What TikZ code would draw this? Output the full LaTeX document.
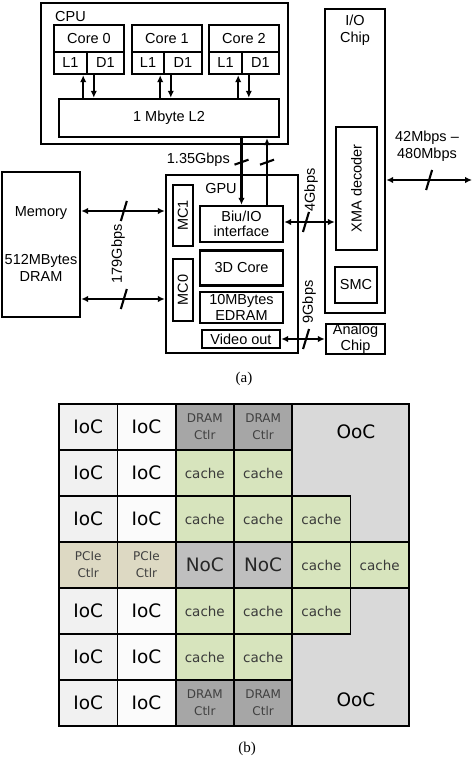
\documentclass[tikz,border=0pt]{standalone}
\usepackage{fontspec}
\setmainfont{Liberation Sans}
\newfontfamily\gridfont{DejaVu Sans}
\newfontfamily\capfont{Liberation Serif}
\usetikzlibrary{arrows.meta}
\definecolor{iocA}{HTML}{F1F1F1}
\definecolor{iocB}{HTML}{FBFBFB}
\definecolor{dramgray}{HTML}{A6A6A6}
\definecolor{dramtext}{HTML}{404040}
\definecolor{cachegreen}{HTML}{D7E4BD}
\definecolor{cachetext}{HTML}{3A3A3A}
\definecolor{nocgray}{HTML}{BFBFBF}
\definecolor{pcietan}{HTML}{DDD9C3}
\definecolor{oocgray}{HTML}{D9D9D9}
\tikzset{
	box/.style = {draw, line width = 2.4pt, inner sep = 0pt, align = center, font = \fontsize{14.5}{15.5}\selectfont},
	link/.style = {line width = 2.1pt, >={Latex[length = 7pt, width = 6.5pt]}},
	busmark/.style = {line width = 2.1pt},
	rate/.style = {inner sep = 0pt, align = center, font = \fontsize{14.5}{16.5}\selectfont},
	cell/.style = {draw, line width = 1.7pt, minimum width = 58.3pt, minimum height = 46pt, inner sep = 0pt, align = center},
	ioc/.style = {cell, fill = iocA, font = \gridfont\fontsize{18.5}{20}\selectfont},
	dram/.style = {cell, fill = dramgray, text = dramtext, font = \gridfont\fontsize{12}{17}\selectfont},
	cache/.style = {cell, fill = cachegreen, text = cachetext, font = \gridfont\fontsize{13.5}{16}\selectfont},
	noc/.style = {cell, fill = nocgray, text = black!85, font = \gridfont\fontsize{18.5}{20}\selectfont},
	pcie/.style = {cell, fill = pcietan, text = dramtext, font = \gridfont\fontsize{12}{17}\selectfont},
	caption/.style = {inner sep = 0pt, font = \capfont\fontsize{15}{17}\selectfont}
}
\begin{document}
\begin{tikzpicture}[x = 1pt, y = -1pt]
	\useasboundingbox (0,0) rectangle (474,757);
	% (a) chip
	\node (cpu) at (164.5, 73.5) [box, minimum width = 247pt, minimum height = 141pt] {};
		\node (cpulabel) at (55, 17) [rate, anchor = west] {CPU};
	\node (c0) at (89, 38.5) [box, minimum width = 70pt, minimum height = 27pt] {Core 0};
	\node (c0l1) at (70.5, 63) [box, minimum width = 33pt, minimum height = 22pt] {L1};
	\node (c0d1) at (105.5, 63) [box, minimum width = 37pt, minimum height = 22pt] {D1};
	\node (c1) at (167, 38.5) [box, minimum width = 70pt, minimum height = 27pt] {Core 1};
	\node (c1l1) at (148, 63) [box, minimum width = 32pt, minimum height = 22pt] {L1};
	\node (c1d1) at (183, 63) [box, minimum width = 38pt, minimum height = 22pt] {D1};
	\node (c2) at (244, 38.5) [box, minimum width = 70pt, minimum height = 27pt] {Core 2};
	\node (c2l1) at (225.5, 63) [box, minimum width = 33pt, minimum height = 22pt] {L1};
	\node (c2d1) at (260.5, 63) [box, minimum width = 37pt, minimum height = 22pt] {D1};
	\node (l2) at (169, 118) [box, minimum width = 220pt, minimum height = 38pt] {1 Mbyte L2};
		\draw[link, ->] ([xshift = -5pt]c0l1.south east |- l2.north) -- ([xshift = -5pt]c0l1.south east);
		\draw[link, ->] ([xshift = 8pt]c0d1.south west) -- ([xshift = 8pt]c0d1.south west |- l2.north);
		\draw[link, ->] ([xshift = -5pt]c1l1.south east |- l2.north) -- ([xshift = -5pt]c1l1.south east);
		\draw[link, ->] ([xshift = 8pt]c1d1.south west) -- ([xshift = 8pt]c1d1.south west |- l2.north);
		\draw[link, ->] ([xshift = -5pt]c2l1.south east |- l2.north) -- ([xshift = -5pt]c2l1.south east);
		\draw[link, ->] ([xshift = 8pt]c2d1.south west) -- ([xshift = 8pt]c2d1.south west |- l2.north);
	\node (mem) at (41, 244.5) [box, minimum width = 78pt, minimum height = 145pt, font = \fontsize{14.5}{17}\selectfont] {Memory\\[31pt]512MBytes\\DRAM};
	\node (gpu) at (232, 264) [box, minimum width = 132pt, minimum height = 178pt] {};
		\node (gpulabel) at (221, 189) [rate] {GPU};
	\node (mc1) at (183, 215.5) [box, minimum width = 20pt, minimum height = 61pt] {\rotatebox{90}{MC1}};
	\node (mc0) at (183, 290) [box, minimum width = 20pt, minimum height = 62pt] {\rotatebox{90}{MC0}};
	\node (biu) at (241.5, 224) [box, minimum width = 83pt, minimum height = 36pt] {Biu/IO\\interface};
	\node (core3d) at (241.5, 268) [box, minimum width = 83pt, minimum height = 35pt] {3D Core};
	\node (edram) at (241.5, 307.5) [box, minimum width = 83pt, minimum height = 31pt] {10MBytes\\EDRAM};
	\node (video) at (241, 339) [box, minimum width = 78pt, minimum height = 18pt] {Video out};
		\draw[link, ->] (biu.north |- l2.south) -- coordinate[pos = 0.36] (tickl2a) (biu.north);
		\draw[link, ->] ([xshift = 25.5pt]biu.north) -- coordinate[pos = 0.64] (tickl2b) ([xshift = 25.5pt]biu.north |- l2.south);
		\draw[busmark] ([shift = {(-7pt, -2.5pt)}]tickl2a) -- ([shift = {(7pt, 2.5pt)}]tickl2a);
		\draw[busmark] ([shift = {(-7pt, -2.5pt)}]tickl2b) -- ([shift = {(7pt, 2.5pt)}]tickl2b);
		\node (rcpu) at (230, 160) [rate, anchor = east] {1.35Gbps};
		\draw[link, <->] ([yshift = 33.5pt]mem.east) -- coordinate[pos = 0.51] (tickm1) ([yshift = 33.5pt]mem.east -| gpu.west);
		\draw[link, <->] ([yshift = -54.5pt]mem.east) -- coordinate[pos = 0.51] (tickm0) ([yshift = -54.5pt]mem.east -| gpu.west);
		\draw[busmark] ([shift = {(-3pt, -10pt)}]tickm1) -- ([shift = {(3pt, 10pt)}]tickm1);
		\draw[busmark] ([shift = {(-3pt, -10pt)}]tickm0) -- ([shift = {(3pt, 10pt)}]tickm0);
		\node (rmem) at (118, 254) [rate, rotate = 90] {179Gbps};
	\node (io) at (355, 161) [box, minimum width = 60pt, minimum height = 304pt] {};
		\node (iolabel) at (355, 30.5) [rate] {I/O\\Chip};
	\node (xma) at (356.5, 188.5) [box, minimum width = 41pt, minimum height = 123pt] {\rotatebox{90}{XMA decoder}};
	\node (smc) at (356, 285) [box, minimum width = 42pt, minimum height = 36pt] {SMC};
	\node (analog) at (355.5, 339) [box, minimum width = 59pt, minimum height = 30pt, font = \fontsize{14.5}{16}\selectfont] {Analog\\Chip};
		\draw[link, <->] ([yshift = 2pt]biu.east) -- coordinate[pos = 0.43] (tickio) ([yshift = 2pt]biu.east -| xma.west);
		\draw[busmark] ([shift = {(-3pt, -10pt)}]tickio) -- ([shift = {(3pt, 10pt)}]tickio);
		\node (rio) at (311, 190) [rate, rotate = 90] {4Gbps};
		\draw[link, <->] (video.east) -- coordinate[pos = 0.57] (tickvid) (video.east -| analog.west);
		\draw[busmark] ([shift = {(-3pt, -10pt)}]tickvid) -- ([shift = {(3pt, 10pt)}]tickvid);
		\node (rvid) at (309, 302) [rate, rotate = 90] {9Gbps};
	\coordinate (ext) at (472, 180);
		\draw[link, <->] (ext -| io.east) -- coordinate[pos = 0.5] (tickext) (ext);
		\draw[busmark] ([shift = {(-3pt, -10pt)}]tickext) -- ([shift = {(3pt, 10pt)}]tickext);
		\node (rext) at (427, 146.5) [rate] {42Mbps –\\480Mbps};
	\node (capa) at (244, 379) [caption] {(a)};
	% (b) tiles
	\node (r1c1) at (88.2, 427) [ioc] {IoC};
	\node (r1c2) at (146.5, 427) [ioc, fill = iocB] {IoC};
	\node (r1c3) at (204.8, 427) [dram] {DRAM\\Ctlr};
	\node (r1c4) at (263.1, 427) [dram] {DRAM\\Ctlr};
	\node (r2c1) at (88.2, 473) [ioc] {IoC};
	\node (r2c2) at (146.5, 473) [ioc, fill = iocB] {IoC};
	\node (r2c3) at (204.8, 473) [cache] {cache};
	\node (r2c4) at (263.1, 473) [cache] {cache};
	\node (r3c1) at (88.2, 519) [ioc] {IoC};
	\node (r3c2) at (146.5, 519) [ioc, fill = iocB] {IoC};
	\node (r3c3) at (204.8, 519) [cache] {cache};
	\node (r3c4) at (263.1, 519) [cache] {cache};
	\node (r3c5) at (321.4, 519) [cache] {cache};
	\node (r4c1) at (88.2, 565) [pcie] {PCIe\\Ctlr};
	\node (r4c2) at (146.5, 565) [pcie] {PCIe\\Ctlr};
	\node (r4c3) at (204.8, 565) [noc] {NoC};
	\node (r4c4) at (263.1, 565) [noc] {NoC};
	\node (r4c5) at (321.4, 565) [cache] {cache};
	\node (r4c6) at (379.7, 565) [cache] {cache};
	\node (r5c1) at (88.2, 611) [ioc] {IoC};
	\node (r5c2) at (146.5, 611) [ioc, fill = iocB] {IoC};
	\node (r5c3) at (204.8, 611) [cache] {cache};
	\node (r5c4) at (263.1, 611) [cache] {cache};
	\node (r5c5) at (321.4, 611) [cache] {cache};
	\node (r6c1) at (88.2, 657) [ioc] {IoC};
	\node (r6c2) at (146.5, 657) [ioc, fill = iocB] {IoC};
	\node (r6c3) at (204.8, 657) [cache] {cache};
	\node (r6c4) at (263.1, 657) [cache] {cache};
	\node (r7c1) at (88.2, 703) [ioc] {IoC};
	\node (r7c2) at (146.5, 703) [ioc, fill = iocB] {IoC};
	\node (r7c3) at (204.8, 703) [dram] {DRAM\\Ctlr};
	\node (r7c4) at (263.1, 703) [dram] {DRAM\\Ctlr};
	\filldraw[fill = oocgray, line width = 1.7pt] (292.2, 404) -- (408.8, 404) -- (408.8, 542) -- (350.5, 542) -- (350.5, 496) -- (292.2, 496) -- cycle;
	\filldraw[fill = oocgray, line width = 1.7pt] (292.2, 726) -- (408.8, 726) -- (408.8, 588) -- (350.5, 588) -- (350.5, 634) -- (292.2, 634) -- cycle;
		\node (ooctop) at (356, 432) [inner sep = 0pt, font = \gridfont\fontsize{18.5}{20}\selectfont] {OoC};
		\node (oocbot) at (356, 700) [inner sep = 0pt, font = \gridfont\fontsize{18.5}{20}\selectfont] {OoC};
	\draw[line width = 2.6pt] (59, 404) rectangle (408.8, 726);
	\node (capb) at (247, 749) [caption] {(b)};
\end{tikzpicture}
\end{document}
